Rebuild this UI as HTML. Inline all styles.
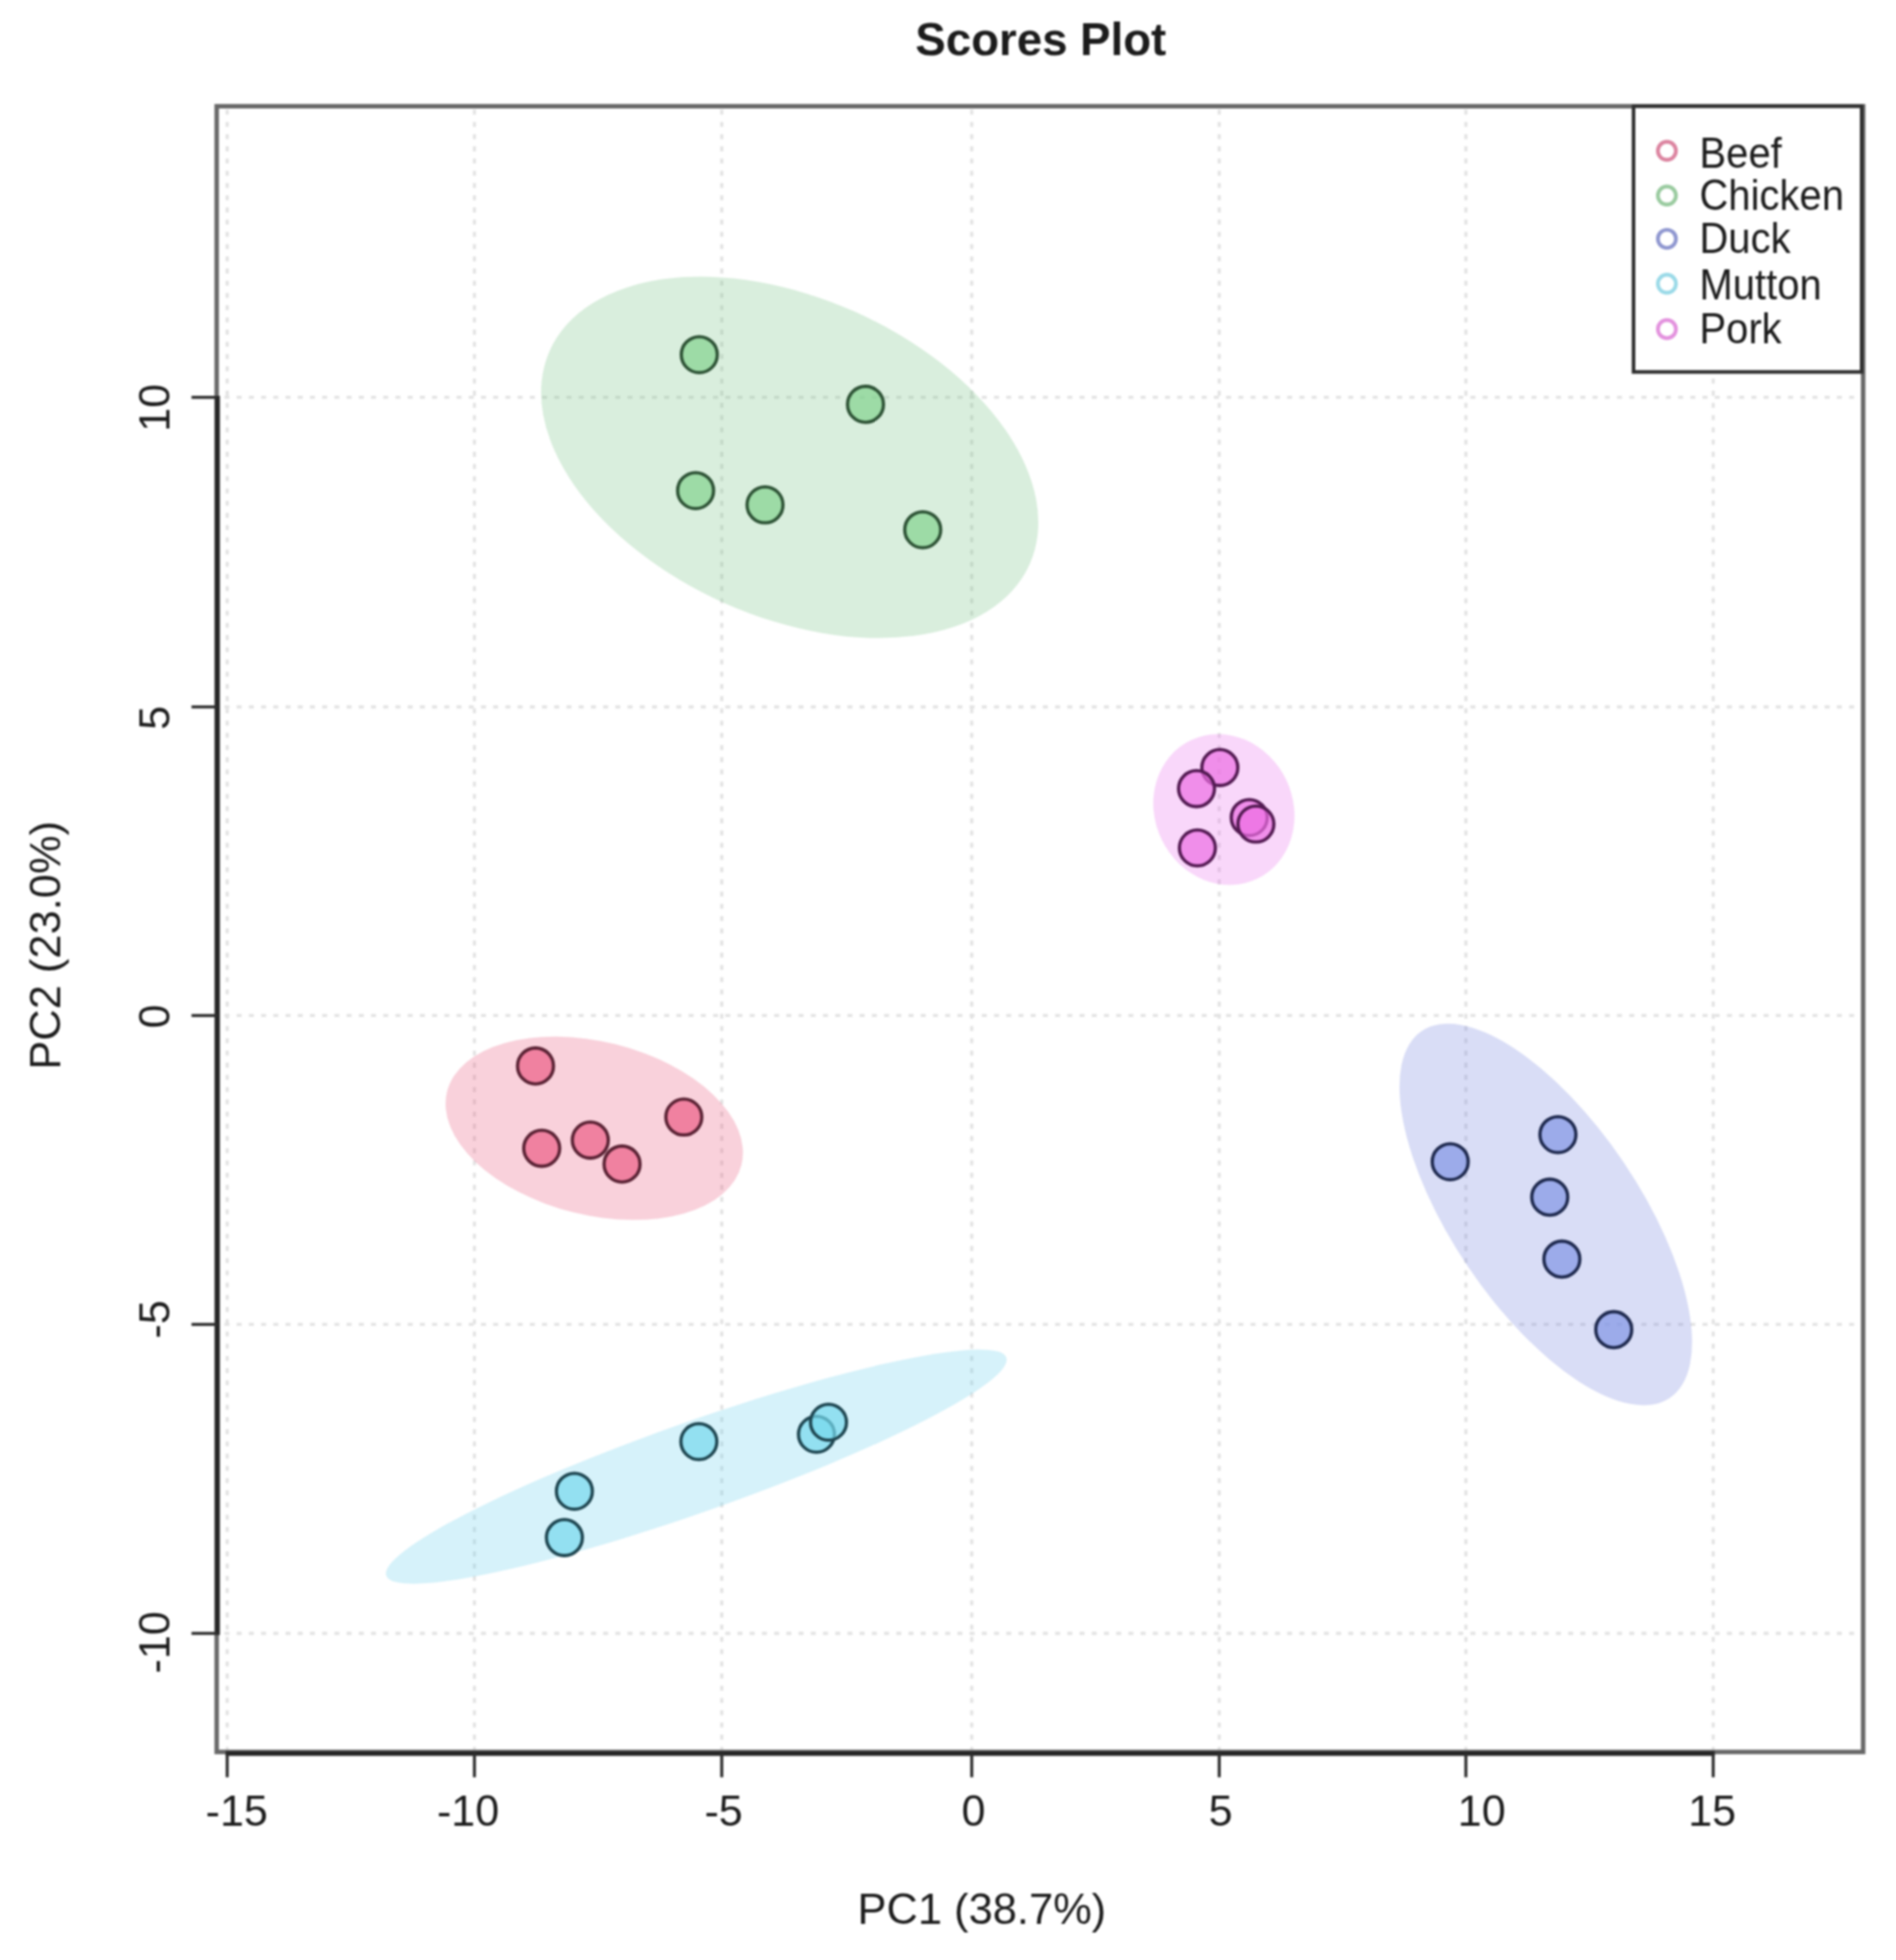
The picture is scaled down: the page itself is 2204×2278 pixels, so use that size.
<!DOCTYPE html>
<html lang="en"><head><meta charset="utf-8"><title>Scores Plot</title>
<style>html,body{margin:0;padding:0;background:#fff}svg{display:block;filter:blur(0.8px)}text{font-family:"Liberation Sans", Arial, Helvetica, sans-serif;fill:#1c1c1c}</style></head><body>
<svg width="2204" height="2278" viewBox="0 0 2204 2278">
<rect x="0" y="0" width="2204" height="2278" fill="#ffffff"/>
<g stroke="#e3e3e3" stroke-width="3.6" stroke-dasharray="5.8 8.4" fill="none">
<line x1="264.1" y1="127.5" x2="264.1" y2="2034.2"/>
<line x1="551.5" y1="127.5" x2="551.5" y2="2034.2"/>
<line x1="839.0" y1="127.5" x2="839.0" y2="2034.2"/>
<line x1="1129.6" y1="127.5" x2="1129.6" y2="2034.2"/>
<line x1="1417.3" y1="127.5" x2="1417.3" y2="2034.2"/>
<line x1="1704.0" y1="127.5" x2="1704.0" y2="2034.2"/>
<line x1="1991.5" y1="127.5" x2="1991.5" y2="2034.2"/>
<line x1="260.9" y1="1898.4" x2="2163.8" y2="1898.4"/>
<line x1="260.9" y1="1539.3" x2="2163.8" y2="1539.3"/>
<line x1="260.9" y1="1180.3" x2="2163.8" y2="1180.3"/>
<line x1="260.9" y1="821.6" x2="2163.8" y2="821.6"/>
<line x1="260.9" y1="461.8" x2="2163.8" y2="461.8"/>
</g>
<ellipse cx="918.0" cy="531.6" rx="305.3" ry="185.5" transform="rotate(23.94 918.0 531.6)" fill="#67bb77" fill-opacity="0.25"/>
<ellipse cx="690.8" cy="1311.3" rx="176.3" ry="100.7" transform="rotate(13.93 690.8 1311.3)" fill="#e7476f" fill-opacity="0.25"/>
<ellipse cx="809.4" cy="1704.6" rx="382.0" ry="52.6" transform="rotate(-19.38 809.4 1704.6)" fill="#5bcbeb" fill-opacity="0.25"/>
<ellipse cx="1422.7" cy="940.9" rx="89.3" ry="80.3" transform="rotate(64.27 1422.7 940.9)" fill="#e75feb" fill-opacity="0.25"/>
<ellipse cx="1796.9" cy="1411.5" rx="257.4" ry="108.9" transform="rotate(55.95 1796.9 1411.5)" fill="#6777db" fill-opacity="0.25"/>
<rect x="251.9" y="123.5" width="1913.9" height="1912.7" fill="none" stroke="#686868" stroke-width="5.2"/>
<g stroke="#262626" fill="none" stroke-linecap="butt">
<line x1="262.3" y1="2038.0" x2="1993.3" y2="2038.0" stroke-width="5.4"/>
<line x1="252.7" y1="460.0" x2="252.7" y2="1900.2" stroke-width="5.8"/>
</g>
<g stroke="#2e2e2e" stroke-width="3.5" fill="none">
<line x1="264.1" y1="2038.0" x2="264.1" y2="2065.6"/>
<line x1="551.5" y1="2038.0" x2="551.5" y2="2065.6"/>
<line x1="839.0" y1="2038.0" x2="839.0" y2="2065.6"/>
<line x1="1129.6" y1="2038.0" x2="1129.6" y2="2065.6"/>
<line x1="1417.3" y1="2038.0" x2="1417.3" y2="2065.6"/>
<line x1="1704.0" y1="2038.0" x2="1704.0" y2="2065.6"/>
<line x1="1991.5" y1="2038.0" x2="1991.5" y2="2065.6"/>
<line x1="222.6" y1="1898.4" x2="252.7" y2="1898.4"/>
<line x1="222.6" y1="1539.3" x2="252.7" y2="1539.3"/>
<line x1="222.6" y1="1180.3" x2="252.7" y2="1180.3"/>
<line x1="222.6" y1="821.6" x2="252.7" y2="821.6"/>
<line x1="222.6" y1="461.8" x2="252.7" y2="461.8"/>
</g>
<g fill="#83d38e" fill-opacity="0.7" stroke="#2d5235" stroke-width="3.8">
<circle cx="812.9" cy="412.2" r="20.9"/>
<circle cx="1006.1" cy="469.9" r="20.9"/>
<circle cx="808.6" cy="570.2" r="20.9"/>
<circle cx="889.3" cy="586.8" r="20.9"/>
<circle cx="1072.6" cy="615.7" r="20.9"/>
</g>
<g fill="#ec6087" fill-opacity="0.7" stroke="#5a2234" stroke-width="3.8">
<circle cx="622.5" cy="1238.9" r="20.9"/>
<circle cx="794.9" cy="1298.3" r="20.9"/>
<circle cx="629.7" cy="1334.6" r="20.9"/>
<circle cx="686.2" cy="1325.1" r="20.9"/>
<circle cx="723.1" cy="1352.9" r="20.9"/>
</g>
<g fill="#76d8ed" fill-opacity="0.7" stroke="#1e4651" stroke-width="3.8">
<circle cx="667.7" cy="1733.2" r="20.9"/>
<circle cx="656.1" cy="1787.1" r="20.9"/>
<circle cx="812.4" cy="1675.5" r="20.9"/>
<circle cx="949.1" cy="1667.0" r="20.9"/>
<circle cx="963.1" cy="1653.0" r="20.9"/>
</g>
<g fill="#ec6fe2" fill-opacity="0.7" stroke="#531a52" stroke-width="3.8">
<circle cx="1418.0" cy="892.1" r="20.9"/>
<circle cx="1390.9" cy="916.6" r="20.9"/>
<circle cx="1452.2" cy="950.2" r="20.9"/>
<circle cx="1459.9" cy="957.8" r="20.9"/>
<circle cx="1391.9" cy="985.5" r="20.9"/>
</g>
<g fill="#8296e5" fill-opacity="0.7" stroke="#1e294e" stroke-width="3.8">
<circle cx="1685.8" cy="1350.2" r="20.9"/>
<circle cx="1811.0" cy="1318.7" r="20.9"/>
<circle cx="1801.5" cy="1391.4" r="20.9"/>
<circle cx="1815.6" cy="1463.4" r="20.9"/>
<circle cx="1875.9" cy="1545.4" r="20.9"/>
</g>
<rect x="1898.9" y="123.5" width="265.2" height="308.8" fill="#ffffff" stroke="#2f2f2f" stroke-width="4.2"/>
<circle cx="1937.7" cy="175.3" r="10.5" fill="none" stroke="#dc84a0" stroke-width="4.4"/>
<text x="1975.5" y="194.8" font-size="49.5" transform="translate(1975.5 0) scale(0.94 1) translate(-1975.5 0)">Beef</text>
<circle cx="1937.7" cy="227.3" r="10.5" fill="none" stroke="#9acba0" stroke-width="4.4"/>
<text x="1975.5" y="243.9" font-size="49.5" transform="translate(1975.5 0) scale(0.94 1) translate(-1975.5 0)">Chicken</text>
<circle cx="1937.7" cy="277.6" r="10.5" fill="none" stroke="#8f97d0" stroke-width="4.4"/>
<text x="1975.5" y="294.3" font-size="49.5" transform="translate(1975.5 0) scale(0.94 1) translate(-1975.5 0)">Duck</text>
<circle cx="1937.7" cy="329.8" r="10.5" fill="none" stroke="#9bdae8" stroke-width="4.4"/>
<text x="1975.5" y="348.3" font-size="49.5" transform="translate(1975.5 0) scale(0.94 1) translate(-1975.5 0)">Mutton</text>
<circle cx="1937.7" cy="382.5" r="10.5" fill="none" stroke="#e392de" stroke-width="4.4"/>
<text x="1975.5" y="398.9" font-size="49.5" transform="translate(1975.5 0) scale(0.94 1) translate(-1975.5 0)">Pork</text>
<text x="1209.9" y="63.6" font-size="53.0" font-weight="bold" text-anchor="middle" fill="#161616">Scores Plot</text>
<text x="275.2" y="2122.2" font-size="50" text-anchor="middle">-15</text>
<text x="544.1" y="2122.2" font-size="50" text-anchor="middle">-10</text>
<text x="841.2" y="2122.2" font-size="50" text-anchor="middle">-5</text>
<text x="1131.7" y="2122.2" font-size="50" text-anchor="middle">0</text>
<text x="1419.0" y="2122.2" font-size="50" text-anchor="middle">5</text>
<text x="1722.4" y="2122.2" font-size="50" text-anchor="middle">10</text>
<text x="1990.3" y="2122.2" font-size="50" text-anchor="middle">15</text>
<text transform="translate(197.0 473.9) rotate(-90)" font-size="50" text-anchor="middle">10</text>
<text transform="translate(197.0 834.4) rotate(-90)" font-size="50" text-anchor="middle">5</text>
<text transform="translate(197.0 1181.3) rotate(-90)" font-size="50" text-anchor="middle">0</text>
<text transform="translate(197.0 1533.4) rotate(-90)" font-size="50" text-anchor="middle">-5</text>
<text transform="translate(197.0 1908.9) rotate(-90)" font-size="50" text-anchor="middle">-10</text>
<text x="1141.4" y="2235.9" font-size="50.5" text-anchor="middle">PC1 (38.7%)</text>
<text transform="translate(70.4 1098.7) rotate(-90)" font-size="50.5" text-anchor="middle">PC2 (23.0%)</text>
</svg></body></html>
